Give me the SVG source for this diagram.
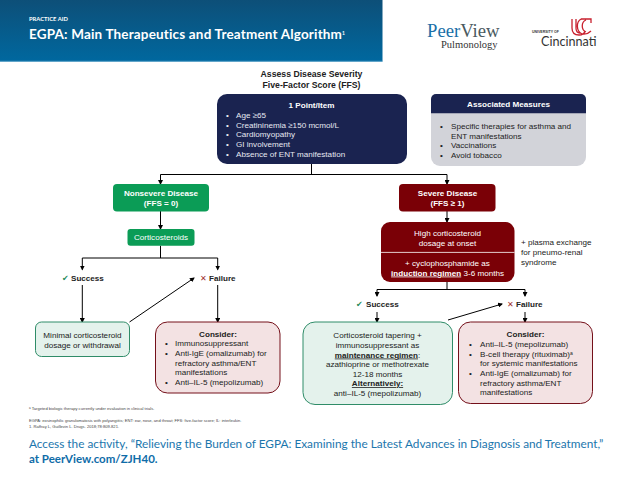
<svg xmlns="http://www.w3.org/2000/svg" width="638" height="477" viewBox="0 0 638 477">
<defs>
<linearGradient id="hg" x1="0" y1="0" x2="0" y2="1"><stop offset="0" stop-color="#0d4f78"/><stop offset="1" stop-color="#00689f"/></linearGradient>
<marker id="ah" markerWidth="5" markerHeight="5" refX="4" refY="2.5" orient="auto" markerUnits="userSpaceOnUse"><path d="M0,0 L5,2.5 L0,5 Z" fill="#000"/></marker>
</defs>
<style>
text{font-family:"Liberation Sans",Arial,sans-serif;font-size:8.1px;fill:#222}
.c{text-anchor:middle}
.b{font-weight:bold}
.w{fill:#fff}
.lt{fill:#e6e8f0}
.ln{fill:none;stroke:#000;stroke-width:1}
.ar{marker-end:url(#ah)}
.navy{fill:#1a2350}
.gb{fill:#0b9c56}
.rb{fill:#7a0006}
.gl{fill:#e4f2ec;stroke:#2f8c68;stroke-width:1}
.rl{fill:#f3e2e3;stroke:#74101a;stroke-width:1}
.u{text-decoration:underline}
.ti{font-family:Lato,"Open Sans",sans-serif}
.fn{font-size:4.1px;fill:#444}
</style>
<rect width="638" height="477" fill="#fff"/>
<g id="header">
<rect width="382.500" height="61.500" fill="url(#hg)"/>
<rect y="60.800" width="382.500" height="0.800" fill="#4f9cc6"/>
<text class="ti b w" x="29" y="21" style="font-size:5.800px">PRACTICE AID</text>
<text class="ti b w" x="29" y="39" style="font-size:13.500px;letter-spacing:0.170px">EGPA: Main Therapeutics and Treatment Algorithm<tspan dy="-4" style="font-size:5px">1</tspan></text>
</g>
<g id="logos">
<text x="427" y="36.500" style="font-family:'Liberation Serif',serif;font-size:18.700px;fill:#1a6fa8">Peer<tspan fill="#4a5a60">View</tspan></text>
<text x="441" y="48" style="font-family:'Liberation Serif',serif;font-size:10.500px;fill:#333">Pulmonology</text>
<text x="532" y="33" style="font-size:3.500px;font-weight:bold;fill:#333">UNIVERSITY OF</text>
<text x="541" y="45.500" style="font-family:Lato,sans-serif;font-size:12.600px;fill:#333">Cincinnati</text>
<path d="M572,19V28Q572,35 579,35Q584,35 585,31M576,19V28Q576,33 580,33M581,19C576,22 576,31 582,34Q587,35 591,31M586,20C581,22 581,30 586,32M581,19H591V23" fill="none" stroke="#c8202e" stroke-width="1.300"/>
</g>
<g id="connectors">
<path class="ln" d="M311.500,164V174.500M160.500,174.500H447"/>
<path class="ln ar" d="M160.500,174.500V184"/>
<path class="ln ar" d="M447,174.500V184"/>
<path class="ln ar" d="M160.500,211V229"/>
<path class="ln" d="M160.500,245.700V258M82.300,258H217.700"/>
<path class="ln ar" d="M82.300,258V269.500"/>
<path class="ln ar" d="M217.700,258V269.500"/>
<path class="ln ar" d="M82.300,285V322"/>
<path class="ln ar" d="M217.700,285V322"/>
<path class="ln ar" d="M129.500,322L194,278"/>
<path class="ln ar" d="M447,211V222"/>
<path class="ln" d="M447,282V289.500M377,289.500H525"/>
<path class="ln ar" d="M377,289.500V296"/>
<path class="ln ar" d="M525,289.500V296"/>
<path class="ln ar" d="M377,312V322"/>
<path class="ln ar" d="M525,312V322"/>
<path class="ln ar" d="M448,320L502,304"/>
</g>
<g id="title">
<text class="c b" x="311.500" y="76.500" style="font-size:8.700px">Assess Disease Severity</text>
<text class="c b" x="311.500" y="88" style="font-size:8.700px">Five-Factor Score (FFS)</text>
</g>
<g id="points">
<rect class="navy" x="217" y="94" width="190" height="70" rx="10"/>
<text class="c b w" x="311.500" y="107.700">1 Point/Item</text>
<text class="lt" x="226" y="118">•</text><text class="lt" x="236" y="118">Age ≥65</text>
<text class="lt" x="226" y="127.700">•</text><text class="lt" x="236" y="127.700">Creatininemia ≥150 mcmol/L</text>
<text class="lt" x="226" y="137">•</text><text class="lt" x="236" y="137">Cardiomyopathy</text>
<text class="lt" x="226" y="146.700">•</text><text class="lt" x="236" y="146.700">GI involvement</text>
<text class="lt" x="226" y="156.700">•</text><text class="lt" x="236" y="156.700">Absence of ENT manifestation</text>
</g>
<g id="measures">
<rect x="431" y="94" width="155" height="72" rx="9" fill="#d2d3d9"/>
<path class="navy" d="M431,113.300V99a5,5 0 0 1 5,-5H581a5,5 0 0 1 5,5V113.300Z"/>
<text class="c b w" x="508.500" y="107">Associated Measures</text>
<text x="440" y="128.500">•</text><text x="451" y="128.500">Specific therapies for asthma and</text>
<text x="451" y="139">ENT manifestations</text>
<text x="440" y="148">•</text><text x="451" y="148">Vaccinations</text>
<text x="440" y="158">•</text><text x="451" y="158">Avoid tobacco</text>
</g>
<g id="nonsevere">
<rect class="gb" x="113" y="184" width="96" height="27.500" rx="4"/>
<text class="c b w" x="161" y="196">Nonsevere Disease</text>
<text class="c b w" x="161" y="206">(FFS = 0)</text>
</g>
<g id="corticosteroids">
<rect class="gb" x="127.500" y="229" width="67" height="16.700" rx="3"/>
<text class="c w" x="161" y="240">Corticosteroids</text>
</g>
<g id="success-left">
<text x="62" y="281" style="fill:#1f8a5a;font-family:'DejaVu Sans',sans-serif;font-size:8px">✔</text>
<text class="b" x="71" y="281">Success</text>
</g>
<g id="failure-left">
<text x="200" y="281" style="fill:#a03030;font-family:'DejaVu Sans',sans-serif;font-size:8px">✕</text>
<text class="b" x="209" y="281">Failure</text>
</g>
<g id="minimal">
<rect class="gl" x="35.500" y="322" width="94" height="34.500" rx="6"/>
<text class="c" x="82.500" y="338">Minimal corticosteroid</text>
<text class="c" x="82.500" y="347.500">dosage or withdrawal</text>
</g>
<g id="consider-left">
<rect class="rl" x="155.500" y="322" width="124.500" height="71" rx="12"/>
<text class="c b" x="218" y="337">Consider:</text>
<text x="165" y="346">•</text><text x="175" y="346">Immunosuppressant</text>
<text x="165" y="356">•</text><text x="175" y="356">Anti-IgE (omalizumab) for</text>
<text x="175" y="366">refractory asthma/ENT</text>
<text x="175" y="375">manifestations</text>
<text x="165" y="385">•</text><text x="175" y="385">Anti–IL-5 (mepolizumab)</text>
</g>
<g id="severe">
<rect class="rb" x="399" y="184" width="96.500" height="27.500" rx="4"/>
<text class="c b w" x="447.500" y="196">Severe Disease</text>
<text class="c b w" x="447.500" y="206">(FFS ≥ 1)</text>
</g>
<g id="induction">
<rect class="rb" x="381" y="222" width="133.500" height="60" rx="9"/>
<path d="M381,252.400H514.500" stroke="#fff" stroke-width="0.800"/>
<text class="c w" x="447.500" y="236">High corticosteroid</text>
<text class="c w" x="447.500" y="246">dosage at onset</text>
<text class="c w" x="447.500" y="265.500">+ cyclophosphamide as</text>
<text class="c w" x="447.500" y="275.500"><tspan class="b u w">induction regimen</tspan> 3-6 months</text>
</g>
<g id="plasma">
<text x="521" y="245">+ plasma exchange</text>
<text x="521" y="255">for pneumo-renal</text>
<text x="521" y="265">syndrome</text>
</g>
<g id="success-right">
<text x="356" y="307" style="fill:#1f8a5a;font-family:'DejaVu Sans',sans-serif;font-size:8px">✔</text>
<text class="b" x="366" y="307">Success</text>
</g>
<g id="failure-right">
<text x="507" y="307" style="fill:#a03030;font-family:'DejaVu Sans',sans-serif;font-size:8px">✕</text>
<text class="b" x="516" y="307">Failure</text>
</g>
<g id="tapering">
<rect class="gl" x="303" y="322" width="149.500" height="82.500" rx="12"/>
<text class="c" x="377.500" y="338">Corticosteroid tapering +</text>
<text class="c" x="377.500" y="347.500">immunosuppressant as</text>
<text class="c" x="377.500" y="357.500"><tspan class="b u">maintenance regimen</tspan>:</text>
<text class="c" x="377.500" y="367">azathioprine or methotrexate</text>
<text class="c" x="377.500" y="376.500">12-18 months</text>
<text class="c b u" x="377.500" y="386">Alternatively:</text>
<text class="c" x="377.500" y="396">anti–IL-5 (mepolizumab)</text>
</g>
<g id="consider-right">
<rect class="rl" x="458.500" y="322" width="134" height="81.500" rx="12"/>
<text class="c b" x="525.500" y="337">Consider:</text>
<text x="469" y="347">•</text><text x="480" y="347">Anti–IL-5 (mepolizumab)</text>
<text x="469" y="357">•</text><text x="480" y="357">B-cell therapy (rituximab)<tspan dy="-2.500" style="font-size:5px">a</tspan></text>
<text x="480" y="366">for systemic manifestations</text>
<text x="469" y="376">•</text><text x="480" y="376">Anti-IgE (omalizumab) for</text>
<text x="480" y="385.500">refractory asthma/ENT</text>
<text x="480" y="394.500">manifestations</text>
</g>
<g id="footnotes">
<text class="fn" x="29" y="409.500"><tspan dy="-1" style="font-size:3px">a</tspan><tspan dy="1"> Targeted biologic therapy currently under evaluation in clinical trials.</tspan></text>
<text class="fn" x="29" y="421.500">EGPA: eosinophilic granulomatosis with polyangiitis; ENT: ear, nose, and throat; FFS: five-factor score; IL: interleukin.</text>
<text class="fn" x="29" y="427.500">1. Raffray L, Guillevin L. Drugs. 2018;78:809-821.</text>
</g>
<g id="cta">
<text class="ti" x="29" y="448" style="font-size:11.800px;fill:#1b76ad">Access the activity, “Relieving the Burden of EGPA: Examining the Latest Advances in Diagnosis and Treatment,”</text>
<text class="ti b" x="29" y="463" style="font-size:11.500px;fill:#0f6ca8">at PeerView.com/ZJH40.</text>
</g>
</svg>
